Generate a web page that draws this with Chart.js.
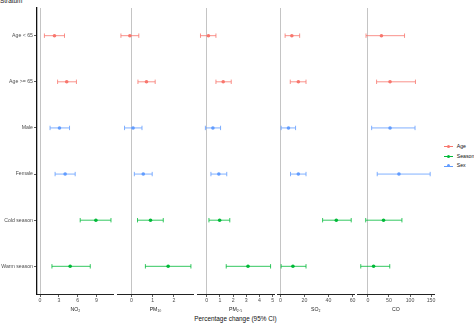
<!DOCTYPE html>
<html>
<head>
<meta charset="utf-8">
<script src="https://cdn.jsdelivr.net/npm/chart.js@4.4.0/dist/chart.umd.min.js"></script>
<style>
  html, body { margin: 0; padding: 0; background: #fff; }
  #wrap { position: relative; width: 474px; height: 323px; overflow: hidden; font-family: 'Liberation Sans', Arial, sans-serif; }
  #wrap canvas { position: absolute; left: 0; top: 0; }
  .txt { position: absolute; white-space: nowrap; line-height: 1; color: #111; }
  .leg { position: absolute; left: 443px; height: 8px; width: 31px; }
  .leg .ln { position: absolute; left: 1px; top: 3.5px; width: 9px; height: 0.8px; }
  .leg .dot { position: absolute; left: 3.9px; top: 2.3px; width: 3.2px; height: 3.2px; border-radius: 50%; }
  .leg span { position: absolute; left: 13.7px; top: 1.3px; font-size: 5.2px; line-height: 1; color: #111; }
</style>
</head>
<body>
<div id="wrap">
  <div class="txt" id="stratum" style="left:0;top:-1.8px;font-size:6.4px;">Stratum</div>
  <div class="txt" style="left:37px;width:397px;top:316.3px;font-size:6.4px;text-align:center;">Percentage change (95% CI)</div>
  <div id="legend"></div>
</div>
<script>
// strata (y axis), top to bottom
const strata = ['Age < 65', 'Age >= 65', 'Male', 'Female', 'Cold season', 'Warm season'];
const strataGroup = ['Age', 'Age', 'Sex', 'Sex', 'Season', 'Season'];
const groups = ['Age', 'Season', 'Sex'];
const groupColors = { Age: '#F8766D', Season: '#00BA38', Sex: '#619CFF' };

const pollutants = ['NO\u2082', 'PM\u2081\u2080', 'PM\u2082.\u2085', 'SO\u2082', 'CO'];

// percentage change and 95% CI per stratum
const no2Est = [2.3, 4.25, 3.1, 4.0, 8.9, 4.8];
const no2Low = [0.7, 2.8, 1.6, 2.4, 6.4, 1.9];
const no2High = [3.9, 5.8, 4.7, 5.6, 11.3, 8.0];

const pm10Est = [-0.07, 0.71, 0.08, 0.56, 0.9, 1.73];
const pm10Low = [-0.49, 0.31, -0.32, 0.14, 0.29, 0.66];
const pm10High = [0.35, 1.12, 0.5, 0.98, 1.5, 2.8];

const pm25Est = [0.13, 1.25, 0.47, 0.92, 0.98, 3.13];
const pm25Low = [-0.47, 0.7, -0.1, 0.32, 0.17, 1.48];
const pm25High = [0.7, 1.86, 1.05, 1.52, 1.75, 4.84];

const so2Est = [9.5, 14.9, 6.7, 14.9, 46.5, 10.4];
const so2Low = [3.9, 8.2, 0.6, 8.4, 35.1, 0.6];
const so2High = [16, 21.3, 12.6, 21.3, 58.9, 21.3];

const coEst = [32, 52.5, 52.5, 73.7, 37, 13.4];
const coLow = [-4.7, 20.5, 8.7, 22, -5.4, -17.2];
const coHigh = [87, 113, 112, 148, 80.8, 51.8];

// x tick labels and axis ranges per panel
const no2Ticks = [0, 3, 6, 9];
const pm10Ticks = [0, 1, 2];
const pm25Ticks = [0, 1, 2, 3, 4, 5];
const so2Ticks = [0, 20, 40, 60];
const coTicks = [0, 50, 100, 150];

const panels = [
    { est: no2Est, low: no2Low, high: no2High, ticks: no2Ticks, min: -0.48, max: 11.75 },
    { est: pm10Est, low: pm10Low, high: pm10High, ticks: pm10Ticks, min: -0.67, max: 2.94 },
    { est: pm25Est, low: pm25Low, high: pm25High, ticks: pm25Ticks, min: -0.72, max: 5.1 },
    { est: so2Est, low: so2Low, high: so2High, ticks: so2Ticks, min: -2.6, max: 61.3 },
    { est: coEst, low: coLow, high: coHigh, ticks: coTicks, min: -25.2, max: 157.6 }
];

const W = 474, H = 323;
const panelLeft = [37, 117.1, 197.2, 277.3, 357.4];
const panelWidth = 76.8;
const labelFont = { family: "'Liberation Sans', Arial, sans-serif", size: 5.2 };

function makePanel(p, i) {
    const canvas = document.createElement('canvas');
    canvas.width = W;
    canvas.height = H;
    document.getElementById('wrap').appendChild(canvas);

    const datasets = [];
    // estimates on top
    datasets.push({
        data: p.est.map((v, r) => ({ x: v, y: r })),
        pointRadius: 1.8,
        pointBackgroundColor: strata.map((s, r) => groupColors[strataGroup[r]]),
        pointBorderWidth: 0,
        showLine: false
    });
    // CI bars with caps
    strata.forEach((s, r) => {
        const col = groupColors[strataGroup[r]];
        datasets.push({
            data: [{ x: p.low[r], y: r }, { x: p.high[r], y: r }],
            showLine: true,
            borderColor: col,
            borderWidth: 0.8,
            pointStyle: 'line',
            pointRotation: 90,
            pointRadius: 2.2,
            pointBorderColor: col,
            pointBorderWidth: 0.8
        });
    });

    const first = i === 0;
    new Chart(canvas.getContext('2d'), {
        type: 'scatter',
        data: { datasets: datasets },
        options: {
            responsive: false,
            animation: false,
            layout: {
                padding: {
                    left: first ? 0 : panelLeft[i],
                    right: W - panelLeft[i] - panelWidth,
                    top: 8,
                    bottom: 0
                }
            },
            plugins: { legend: { display: false }, tooltip: { enabled: false } },
            scales: {
                x: {
                    type: 'linear',
                    min: p.min,
                    max: p.max,
                    afterBuildTicks: s => { s.ticks = p.ticks.map(v => ({ value: v })); },
                    afterFit: s => { s.height = 29; },
                    ticks: { font: labelFont, color: '#4d4d4d', padding: 0.5, maxRotation: 0, autoSkip: false },
                    grid: {
                        color: ctx => (ctx.tick && ctx.tick.value === 0) ? '#c4c4c4' : 'rgba(0,0,0,0)',
                        lineWidth: 1,
                        drawTicks: true,
                        tickLength: 3,
                        tickColor: '#333',
                        tickWidth: 0.8
                    },
                    border: { display: true, color: '#222', width: 1 },
                    title: {
                        display: true,
                        text: pollutants[i],
                        font: labelFont,
                        color: '#222',
                        padding: { top: 0, bottom: 9.9 }
                    }
                },
                y: {
                    type: 'linear',
                    display: first,
                    reverse: true,
                    min: -0.6,
                    max: 5.6,
                    afterBuildTicks: s => { s.ticks = strata.map((c, r) => ({ value: r })); },
                    afterFit: s => { if (first) s.width = 37; },
                    ticks: {
                        font: labelFont,
                        color: '#4d4d4d',
                        padding: 1,
                        callback: v => strata[v]
                    },
                    grid: {
                        drawOnChartArea: false,
                        drawTicks: true,
                        tickLength: 3,
                        tickColor: '#333',
                        tickWidth: 0.8
                    },
                    border: { display: true, color: '#111', width: 1.3 }
                }
            }
        }
    });
}

panels.forEach(makePanel);

// legend
const legendY = [146.7, 156.3, 166];
const legend = document.getElementById('legend');
groups.forEach((g, k) => {
    const item = document.createElement('div');
    item.className = 'leg';
    item.style.top = (legendY[k] - 4) + 'px';
    item.innerHTML = `
        <div class="ln" style="background:${groupColors[g]}"></div>
        <div class="dot" style="background:${groupColors[g]}"></div>
        <span>${g}</span>
    `;
    legend.appendChild(item);
});
</script>
</body>
</html>
